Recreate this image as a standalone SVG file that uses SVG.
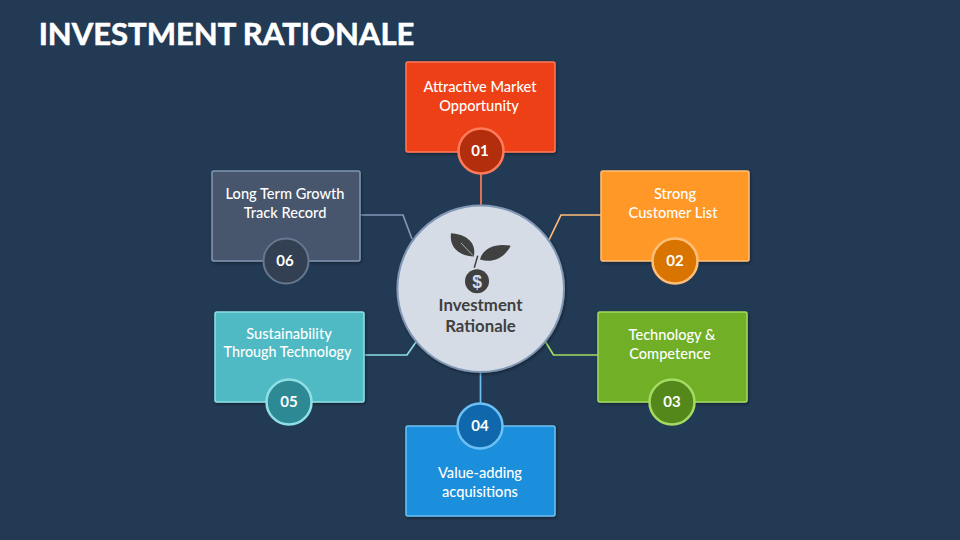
<svg xmlns="http://www.w3.org/2000/svg" width="960" height="540" viewBox="0 0 960 540">
<style>
text{font-family:"Lato","Carlito","Liberation Sans",sans-serif;text-anchor:middle}
.t{fill:#fff;font-size:14.6px;font-weight:500}
.n{fill:#fff;font-size:15px;font-weight:700}
.b{stroke-width:1.500}
.c{stroke-width:2.500}
.l{fill:none;stroke-width:1.700}
</style>
<defs>
<filter id="s" x="-10%" y="-10%" width="120%" height="125%"><feDropShadow dx="1" dy="1.500" stdDeviation="1.500" flood-color="#000" flood-opacity=".4"/></filter>
</defs>
<rect width="960" height="540" fill="#233A54"/>
<text x="226.500" y="45" style="font-size:31px;font-weight:700;fill:#fff;stroke:#fff;stroke-width:.6px">INVESTMENT RATIONALE</text>
<g id="connectors">
<path class="l" stroke="#FF7B5C" d="M481 174V206"/>
<path class="l" stroke="#FFBF78" d="M601 215H561L549 240"/>
<path class="l" stroke="#A3DC60" d="M598 355H553.500L545 341"/>
<path class="l" stroke="#6CC0F5" d="M480.500 372V404"/>
<path class="l" stroke="#8FE0E6" d="M365 355H407L416 342"/>
<path class="l" stroke="#8097B5" d="M360 215H403L412 239"/>
</g>
<g id="center">
<circle cx="480.700" cy="288.700" r="83.300" fill="#D6DCE5" stroke="#8097B5" stroke-width="2" filter="url(#s)"/>
<path fill="#404040" d="M451 233.300C464 234 477 241 473.800 256.500C460 256 449 248 451 233.300Z"/>
<path stroke="#D6DCE5" stroke-width=".7" fill="none" d="M461 243L473 255.500"/>
<path fill="#404040" d="M480 259.500C483 247 497 243 510.700 245.700C506 256 494 264 480 259.500Z"/>
<path fill="none" stroke="#404040" stroke-width="1.500" d="M477.700 255.700L474.300 267.700"/>
<circle cx="477" cy="281.300" r="12" fill="#404040"/>
<text x="477" y="287.500" style="font-family:'Liberation Sans',sans-serif;font-size:17.500px;font-weight:700;fill:#D6DCE5">$</text>
<text x="480.500" y="311" style="font-size:16.800px;font-weight:700;fill:#404040">Investment</text>
<text x="480.500" y="331.500" style="font-size:16.800px;font-weight:700;fill:#404040">Rationale</text>
</g>
<g id="node-01">
<rect class="b" x="406" y="62" width="149" height="90" rx="2" fill="#EE3F14" stroke="#FF7B5C" filter="url(#s)"/>
<text class="t" x="480" y="92">Attractive Market</text>
<text class="t" x="479" y="111">Opportunity</text>
<circle class="c" cx="481" cy="151" r="22.500" fill="#B22E0C" stroke="#FF7B5C"/>
<text class="n" x="480" y="156">01</text>
</g>
<g id="node-02">
<rect class="b" x="601" y="171" width="148" height="90" rx="2" fill="#FF9826" stroke="#FFBF78" filter="url(#s)"/>
<text class="t" x="675" y="199">Strong</text>
<text class="t" x="673" y="218">Customer List</text>
<circle class="c" cx="675" cy="261" r="22.500" fill="#D97400" stroke="#FFBF78"/>
<text class="n" x="675" y="266">02</text>
</g>
<g id="node-03">
<rect class="b" x="598" y="312" width="149" height="90" rx="2" fill="#6FAF26" stroke="#A3DC60" filter="url(#s)"/>
<text class="t" x="672" y="340">Technology &amp;</text>
<text class="t" x="670" y="359">Competence</text>
<circle class="c" cx="672" cy="402" r="22.500" fill="#54881A" stroke="#A3DC60"/>
<text class="n" x="672" y="407">03</text>
</g>
<g id="node-04">
<rect class="b" x="406" y="426" width="149" height="90" rx="2" fill="#1C8FDC" stroke="#6CC0F5" filter="url(#s)"/>
<text class="t" x="480" y="478">Value-adding</text>
<text class="t" x="480" y="497">acquisitions</text>
<circle class="c" cx="480" cy="426" r="22.500" fill="#0F68AC" stroke="#6CC0F5"/>
<text class="n" x="480" y="431">04</text>
</g>
<g id="node-05">
<rect class="b" x="215" y="312" width="149" height="90" rx="2" fill="#4FBAC3" stroke="#8FE0E6" filter="url(#s)"/>
<text class="t" x="289" y="339">Sustainability</text>
<text class="t" x="287.500" y="357" style="font-size:14.300px">Through Technology</text>
<circle class="c" cx="289" cy="402" r="22.500" fill="#2D8A94" stroke="#8FE0E6"/>
<text class="n" x="289" y="407">05</text>
</g>
<g id="node-06">
<rect class="b" x="212" y="171" width="148" height="90" rx="2" fill="#46566C" stroke="#8097B5" filter="url(#s)"/>
<text class="t" x="285" y="199">Long Term Growth</text>
<text class="t" x="285" y="218">Track Record</text>
<circle cx="286" cy="261" r="22.500" fill="#333F52" stroke="#66788F" stroke-width="2"/>
<text class="n" x="285" y="266">06</text>
</g>
</svg>
